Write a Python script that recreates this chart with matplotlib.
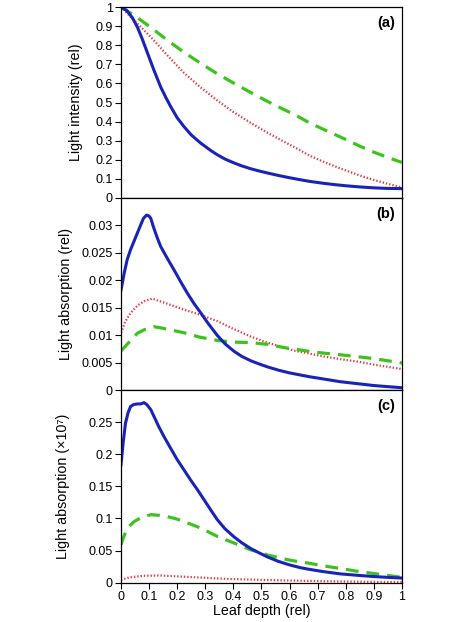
import matplotlib
matplotlib.use("Agg")
import matplotlib.pyplot as plt

plt.rcParams['font.family'] = ['Liberation Sans', 'DejaVu Sans']

# ---- Panel (a): light intensity ----
a_blue_x = [0, 0.02, 0.04, 0.058, 0.075, 0.094, 0.117, 0.141, 0.16, 0.177, 0.2, 0.224, 0.25, 0.284, 0.32, 0.343, 0.37, 0.403, 0.43, 0.462, 0.49, 0.521, 0.56, 0.6, 0.64, 0.671, 0.72, 0.76, 0.8, 0.849, 0.9, 0.95, 1.0]
a_blue_y = [1.0, 0.982, 0.945, 0.896, 0.835, 0.76, 0.67, 0.582, 0.525, 0.478, 0.42, 0.374, 0.33, 0.287, 0.248, 0.226, 0.204, 0.183, 0.168, 0.153, 0.142, 0.131, 0.118, 0.106, 0.095, 0.087, 0.077, 0.07, 0.064, 0.058, 0.053, 0.05, 0.049]
a_red_x = [0, 0.05, 0.106, 0.16, 0.224, 0.28, 0.343, 0.4, 0.462, 0.521, 0.58, 0.62, 0.671, 0.72, 0.78, 0.849, 0.9, 0.95, 1.0]
a_red_y = [1.0, 0.925, 0.843, 0.755, 0.655, 0.583, 0.51, 0.45, 0.393, 0.342, 0.295, 0.264, 0.222, 0.19, 0.155, 0.118, 0.094, 0.074, 0.055]
a_green_x = [0, 0.046, 0.1, 0.165, 0.224, 0.284, 0.343, 0.403, 0.462, 0.521, 0.58, 0.62, 0.671, 0.72, 0.78, 0.849, 0.9, 0.95, 1.0]
a_green_y = [1.0, 0.957, 0.9, 0.826, 0.763, 0.705, 0.65, 0.6, 0.552, 0.506, 0.463, 0.435, 0.393, 0.36, 0.32, 0.272, 0.24, 0.212, 0.186]

# ---- Panel (b): light absorption (rel) ----
b_blue_x = [0, 0.012, 0.022, 0.034, 0.046, 0.058, 0.07, 0.08, 0.091, 0.1, 0.106, 0.115, 0.128, 0.141, 0.165, 0.189, 0.212, 0.236, 0.26, 0.284, 0.31, 0.343, 0.37, 0.403, 0.43, 0.462, 0.493, 0.521, 0.56, 0.6, 0.64, 0.671, 0.72, 0.78, 0.849, 0.9, 0.95, 1.0]
b_blue_y = [0.0183, 0.0215, 0.0238, 0.0256, 0.0271, 0.0286, 0.0301, 0.0313, 0.0319, 0.0317, 0.0313, 0.0298, 0.0279, 0.0262, 0.024, 0.0219, 0.0198, 0.0177, 0.0158, 0.0141, 0.0122, 0.0100, 0.0085, 0.0071, 0.0062, 0.0054, 0.0048, 0.0043, 0.0037, 0.0032, 0.0028, 0.0025, 0.0021, 0.0016, 0.0012, 0.0009, 0.0007, 0.0005]
b_red_x = [0, 0.015, 0.034, 0.06, 0.085, 0.112, 0.14, 0.18, 0.224, 0.28, 0.343, 0.4, 0.462, 0.521, 0.58, 0.62, 0.671, 0.72, 0.78, 0.849, 0.9, 0.95, 1.0]
b_red_y = [0.0105, 0.0125, 0.0141, 0.0155, 0.0163, 0.0167, 0.0162, 0.0155, 0.0147, 0.0138, 0.0126, 0.0112, 0.0098, 0.0087, 0.0078, 0.0072, 0.0067, 0.0062, 0.0057, 0.0052, 0.0047, 0.0043, 0.0039]
b_green_x = [0, 0.02, 0.04, 0.058, 0.085, 0.117, 0.15, 0.224, 0.28, 0.343, 0.4, 0.462, 0.521, 0.58, 0.62, 0.671, 0.72, 0.78, 0.849, 0.9, 0.95, 1.0]
b_green_y = [0.0072, 0.0083, 0.0094, 0.0104, 0.0111, 0.0116, 0.0113, 0.0105, 0.0097, 0.0091, 0.0088, 0.0087, 0.0084, 0.0078, 0.0075, 0.0071, 0.0068, 0.0065, 0.0061, 0.0058, 0.0054, 0.005]

# ---- Panel (c): light absorption (x10^7) ----
c_blue_x = [0, 0.008, 0.016, 0.025, 0.034, 0.045, 0.058, 0.07, 0.082, 0.092, 0.106, 0.12, 0.135, 0.153, 0.175, 0.2, 0.224, 0.248, 0.272, 0.296, 0.32, 0.343, 0.37, 0.403, 0.43, 0.462, 0.493, 0.521, 0.56, 0.6, 0.64, 0.671, 0.72, 0.78, 0.849, 0.9, 0.95, 1.0]
c_blue_y = [0.184, 0.22, 0.249, 0.265, 0.275, 0.278, 0.279, 0.279, 0.281, 0.278, 0.27, 0.257, 0.243, 0.228, 0.211, 0.192, 0.176, 0.16, 0.145, 0.129, 0.113, 0.098, 0.084, 0.071, 0.062, 0.053, 0.046, 0.04, 0.033, 0.0275, 0.023, 0.0205, 0.017, 0.0135, 0.011, 0.0093, 0.008, 0.007]
c_red_x = [0, 0.03, 0.077, 0.137, 0.196, 0.255, 0.315, 0.374, 0.433, 0.49, 0.61, 0.73, 0.85, 1.0]
c_red_y = [0.004, 0.008, 0.0104, 0.011, 0.0097, 0.0083, 0.007, 0.0057, 0.0049, 0.0042, 0.003, 0.002, 0.0012, 0.0005]
c_green_x = [0, 0.01, 0.02, 0.032, 0.046, 0.07, 0.106, 0.135, 0.165, 0.2, 0.224, 0.255, 0.284, 0.343, 0.403, 0.462, 0.493, 0.521, 0.56, 0.6, 0.64, 0.671, 0.72, 0.78, 0.849, 0.9, 0.95, 1.0]
c_green_y = [0.059, 0.072, 0.082, 0.089, 0.095, 0.101, 0.106, 0.105, 0.103, 0.099, 0.095, 0.09, 0.085, 0.072, 0.0615, 0.051, 0.047, 0.043, 0.039, 0.035, 0.032, 0.03, 0.026, 0.022, 0.017, 0.014, 0.011, 0.008]

x_ticks = [0, 0.1, 0.2, 0.3, 0.4, 0.5, 0.6, 0.7, 0.8, 0.9, 1]
x_tick_labels = ['0', '0.1', '0.2', '0.3', '0.4', '0.5', '0.6', '0.7', '0.8', '0.9', '1']
a_ticks = [0, 0.1, 0.2, 0.3, 0.4, 0.5, 0.6, 0.7, 0.8, 0.9, 1]
a_tick_labels = ['0', '0.1', '0.2', '0.3', '0.4', '0.5', '0.6', '0.7', '0.8', '0.9', '1']
b_ticks = [0, 0.005, 0.01, 0.015, 0.02, 0.025, 0.03]
b_tick_labels = ['0', '0.005', '0.01', '0.015', '0.02', '0.025', '0.03']
c_ticks = [0, 0.05, 0.1, 0.15, 0.2, 0.25]
c_tick_labels = ['0', '0.05', '0.1', '0.15', '0.2', '0.25']

BLUE = '#1a23b8'
RED = '#e8323c'
GREEN = '#3cc31e'

fig = plt.figure(figsize=(4.74, 6.22), dpi=100)
L, W = 0.2553, 0.5927
axa = fig.add_axes([L, 0.6817, W, 0.3070])
axb = fig.add_axes([L, 0.3722, W, 0.3095])
axc = fig.add_axes([L, 0.0635, W, 0.3087])

def style(ax, ylim, yt, ytl, ylabel, lx, panel, xlabels):
    ax.set_xlim(0, 1)
    ax.set_ylim(*ylim)
    ax.set_yticks(yt)
    ax.set_yticklabels(ytl, fontsize=9)
    ax.tick_params(axis='y', direction='out', length=4, width=0.8, pad=2)
    if xlabels:
        ax.set_xticks(x_ticks)
        ax.set_xticklabels(x_tick_labels, fontsize=9)
        ax.tick_params(axis='x', direction='out', length=4, width=0.8, pad=2)
    else:
        ax.set_xticks([])
    for s in ax.spines.values():
        s.set_linewidth(0.9)
    ax.set_ylabel(ylabel, fontsize=10.3)
    ax.yaxis.set_label_coords(lx, 0.5)
    ax.text(0.975, 0.955, panel, transform=ax.transAxes, ha='right', va='top',
            fontsize=10.5, fontweight='bold')

def draw(ax, bx, by, rx, ry, gx, gy):
    ax.plot(rx, ry, color=RED, lw=1.6, linestyle=(0, (0.6, 0.9)), solid_capstyle='butt')
    ax.plot(gx, gy, color=GREEN, lw=2.3, linestyle=(0, (4, 2.5)))
    ax.plot(bx, by, color=BLUE, lw=2.2)

draw(axa, a_blue_x, a_blue_y, a_red_x, a_red_y, a_green_x, a_green_y)
draw(axb, b_blue_x, b_blue_y, b_red_x, b_red_y, b_green_x, b_green_y)
draw(axc, c_blue_x, c_blue_y, c_red_x, c_red_y, c_green_x, c_green_y)

style(axa, (0, 1), a_ticks, a_tick_labels, 'Light intensity (rel)', -0.135, '(a)', False)
style(axb, (0, 0.035), b_ticks, b_tick_labels, 'Light absorption (rel)', -0.171, '(b)', False)
style(axc, (0, 0.3), c_ticks, c_tick_labels, 'Light absorption (×10⁷)', -0.18, '(c)', True)
axc.set_xlabel('Leaf depth (rel)', fontsize=10.3, labelpad=1)

fig.savefig('out.png', dpi=100)
